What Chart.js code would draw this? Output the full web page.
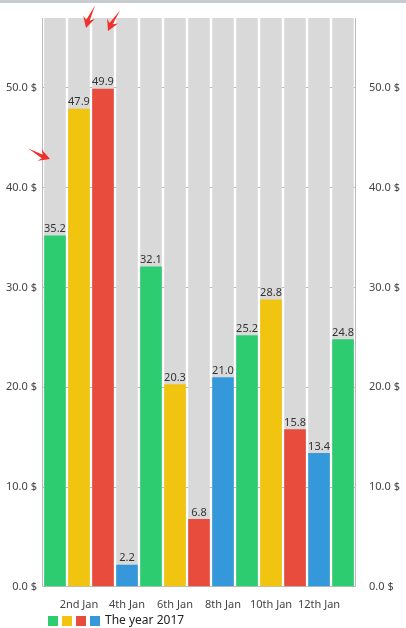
<!DOCTYPE html>
<html>
<head>
<meta charset="utf-8">
<script src="https://cdn.jsdelivr.net/npm/chart.js@4"></script>
<style>
  html, body { margin: 0; padding: 0; background: #fff; }
  #wrap { width: 406px; height: 628px; border-top: 3px solid #c9cbd3; box-sizing: border-box; }
</style>
</head>
<body>
<div id="wrap"><canvas id="chart" width="406" height="625"></canvas></div>
<script>
  const categories = ['1st Jan', '2nd Jan', '3rd Jan', '4th Jan', '5th Jan', '6th Jan', '7th Jan',
    '8th Jan', '9th Jan', '10th Jan', '11th Jan', '12th Jan', '13th Jan'];
  const values = [35.2, 47.9, 49.9, 2.2, 32.1, 20.3, 6.8, 21.0, 25.2, 28.8, 15.8, 13.4, 24.8];
  const yTicks = [0, 10, 20, 30, 40, 50];
  const axisMax = 57;
  const palette = ['#2ecc71', '#f1c40f', '#e74c3c', '#3498db'];

  const colors = values.map((v, i) => palette[i % 4]);

  const extras = {
    id: 'extras',
    afterDatasetsDraw(chart) {
      const ctx = chart.ctx;
      const meta = chart.getDatasetMeta(1);
      ctx.save();
      ctx.font = '11px "Noto Sans"';
      ctx.fillStyle = '#333';
      ctx.textAlign = 'center';
      ctx.textBaseline = 'bottom';
      meta.data.forEach((bar, i) => {
        ctx.fillText(values[i].toFixed(1), bar.x, bar.y - 1);
      });
      // legend
      const ly = 618;
      palette.forEach((c, i) => {
        ctx.fillStyle = c;
        ctx.fillRect(48 + i * 14, ly - 5, 10, 10);
      });
      ctx.fillStyle = '#222';
      ctx.font = '12px "Noto Sans"';
      ctx.textAlign = 'left';
      ctx.textBaseline = 'middle';
      ctx.fillText('The year 2017', 105, ly);
      // red arrow markers
      const arrow = (x, y, ang) => {
        ctx.save();
        ctx.translate(x, y);
        ctx.rotate(ang);
        ctx.fillStyle = '#f0302a';
        ctx.beginPath();
        ctx.moveTo(0, 0);
        ctx.lineTo(-11, -6);
        ctx.lineTo(-8, -1.5);
        ctx.lineTo(-24, -2.5);
        ctx.lineTo(-8, 2);
        ctx.lineTo(-11, 6);
        ctx.closePath();
        ctx.fill();
        ctx.restore();
      };
      arrow(86, 25, 1.85);
      arrow(108, 28, 2.0);
      arrow(50, 156, 0.35);
      ctx.restore();
    }
  };

  const tickFont = { family: 'Noto Sans', size: 11 };

  new Chart(document.getElementById('chart'), {
    type: 'bar',
    data: {
      labels: categories,
      datasets: [
        {
          data: categories.map(() => axisMax),
          backgroundColor: '#d9d9d9',
          grouped: false,
          order: 2,
          categoryPercentage: 1,
          barPercentage: 0.9
        },
        {
          data: values,
          backgroundColor: colors,
          grouped: false,
          order: 1,
          categoryPercentage: 1,
          barPercentage: 0.9
        }
      ]
    },
    plugins: [extras],
    options: {
      responsive: false,
      animation: false,
      layout: { padding: { top: 15, bottom: 14, left: 0, right: 0 } },
      plugins: { legend: { display: false }, tooltip: { enabled: false } },
      scales: {
        x: {
          grid: { display: false },
          border: { display: false },
          ticks: {
            autoSkip: false, maxRotation: 0, color: '#444', font: tickFont,
            callback: (v, i) => (i % 2 === 1 ? categories[i] : '')
          }
        },
        y: {
          min: 0, max: axisMax,
          afterBuildTicks: a => { a.ticks = yTicks.map(v => ({ value: v })); },
          grid: { color: '#bbb', drawTicks: false },
          border: { color: '#bbb' },
          ticks: { color: '#444', padding: 6, font: tickFont, callback: v => v.toFixed(1) + ' $' }
        },
        y2: {
          position: 'right',
          min: 0, max: axisMax,
          afterBuildTicks: a => { a.ticks = yTicks.map(v => ({ value: v })); },
          grid: { display: false },
          border: { color: '#bbb' },
          ticks: { color: '#444', padding: 6, font: tickFont, callback: v => v.toFixed(1) + ' $' }
        }
      }
    }
  });
</script>
</body>
</html>
